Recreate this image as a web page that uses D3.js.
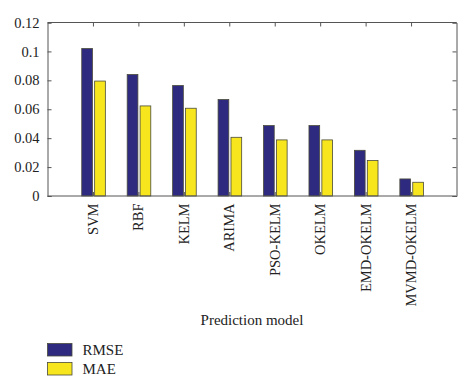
<!DOCTYPE html>
<html>
<head>
<meta charset="utf-8">
<script src="https://cdn.jsdelivr.net/npm/d3@7"></script>
<style>
    body { margin: 0; background: #fff; }
    text { font-family: "Liberation Serif", "DejaVu Serif", serif; fill: #222; }
</style>
</head>
<body>
<svg id="chart"></svg>
<script>
var models = ["SVM", "RBF", "KELM", "ARIMA", "PSO-KELM", "OKELM", "EMD-OKELM", "MVMD-OKELM"];
var rmse = [0.102, 0.084, 0.0764, 0.0667, 0.0487, 0.0487, 0.0316, 0.0118];
var mae = [0.0795, 0.0623, 0.0607, 0.0406, 0.0388, 0.0388, 0.0245, 0.0095];
var yTicks = [0, 0.02, 0.04, 0.06, 0.08, 0.1, 0.12];
var seriesNames = ["RMSE", "MAE"];
var seriesColors = ["#2e2a80", "#f7e61e"];

var width = 474,
    height = 392;
var plotL = 47.5, plotR = 456.5, plotT = 22.5, plotB = 196;

var svg = d3.select("#chart")
    .attr("width", width)
    .attr("height", height);

var x = d3.scalePoint().domain(models).range([plotL, plotR]).padding(1);
var y = d3.scaleLinear().domain([0, 0.12]).range([plotB, plotT]);

var barW = 10.7;
var offsets = [-barW - 0.5, 1.7];
var series = [rmse, mae];

// bars
series.forEach(function(vals, s) {
    svg.append("g").selectAll("rect")
        .data(vals)
        .enter()
        .append("rect")
        .attr("x", function(d, i) { return x(models[i]) + offsets[s]; })
        .attr("y", function(d) { return y(d); })
        .attr("width", barW)
        .attr("height", function(d) { return plotB - y(d); })
        .attr("fill", seriesColors[s])
        .attr("stroke", "#4a4a3a")
        .attr("stroke-width", 0.8);
});

// axes (matlab style box, ticks inside)
var tickColor = "#555";
svg.append("g")
    .attr("transform", "translate(" + plotL + ",0)")
    .call(d3.axisLeft(y).tickValues(yTicks).tickSize(-4).tickPadding(8)
        .tickFormat(function(d) { return String(+d.toFixed(2)); }))
    .call(function(g) {
        g.select(".domain").attr("stroke", tickColor);
        g.selectAll("line").attr("stroke", tickColor);
        g.selectAll("text").style("font-size", "14.5px").attr("fill", "#222")
            .style("font-family", "Liberation Serif, serif");
    });

svg.append("g")
    .attr("transform", "translate(" + plotR + ",0)")
    .call(d3.axisRight(y).tickValues(yTicks).tickSize(-4).tickFormat(""))
    .call(function(g) {
        g.select(".domain").attr("stroke", tickColor);
        g.selectAll("line").attr("stroke", tickColor);
    });

svg.append("g")
    .attr("transform", "translate(0," + plotT + ")")
    .call(d3.axisTop(x).tickSize(-4).tickFormat(""))
    .call(function(g) {
        g.select(".domain").attr("d", "M" + plotL + ",0H" + plotR).attr("stroke", tickColor);
        g.selectAll("line").attr("stroke", tickColor);
    });

svg.append("g")
    .attr("transform", "translate(0," + plotB + ")")
    .call(d3.axisBottom(x).tickSize(-4).tickFormat(""))
    .call(function(g) {
        g.select(".domain").attr("d", "M" + plotL + ",0H" + plotR).attr("stroke", tickColor);
        g.selectAll("line").attr("stroke", tickColor);
    });

// rotated category labels
svg.append("g").selectAll("text")
    .data(models)
    .enter()
    .append("text")
    .attr("transform", function(d) { return "translate(" + x(d) + "," + (plotB + 7.5) + ") rotate(-90)"; })
    .attr("text-anchor", "end")
    .attr("dy", "0.35em")
    .style("font-size", "14.5px")
    .text(function(d) { return d; });

svg.append("text")
    .attr("x", (plotL + plotR) / 2)
    .attr("y", 325)
    .attr("text-anchor", "middle")
    .style("font-size", "15px")
    .text("Prediction model");

// legend
var legend = svg.append("g").selectAll("g")
    .data(seriesNames)
    .enter()
    .append("g")
    .attr("transform", function(d, i) { return "translate(47.5," + (343.5 + i * 19) + ")"; });

legend.append("rect")
    .attr("width", 24.5)
    .attr("height", 12.5)
    .attr("fill", function(d, i) { return seriesColors[i]; })
    .attr("stroke", "#4a4a3a")
    .attr("stroke-width", 0.8);

legend.append("text")
    .attr("x", 35)
    .attr("y", 11)
    .style("font-size", "15px")
    .text(function(d) { return d; });
</script>
</body>
</html>
